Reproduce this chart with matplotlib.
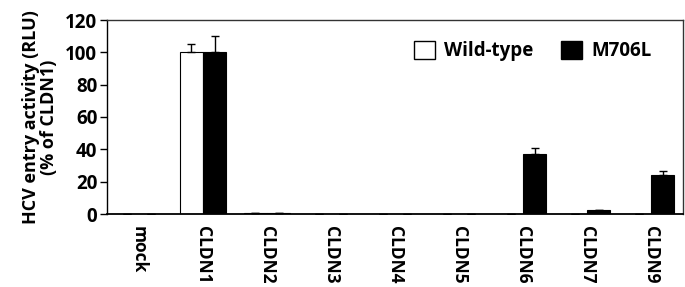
import numpy as np
import matplotlib.pyplot as plt
from matplotlib.patches import Patch

categories = ['mock', 'CLDN1', 'CLDN2', 'CLDN3', 'CLDN4', 'CLDN5', 'CLDN6', 'CLDN7', 'CLDN9']
wild_type = [0.3, 100, 0.5, 0, 0, 0, 0, 0, 0]
wild_type_err = [0, 5, 0, 0, 0, 0, 0, 0, 0]
m706l = [0.3, 100, 0.5, 0, 0, 0, 37, 2.3, 24]
m706l_err = [0, 10, 0, 0, 0, 0, 3.8, 0, 2.6]

plt.rcParams['font.family'] = ['Open Sans', 'DejaVu Sans']
plt.rcParams['font.weight'] = 'bold'

fig = plt.figure(figsize=(6.85, 2.87), dpi=100)
ax = fig.add_axes([107 / 685, 1 - 214 / 287, 576 / 685, 194 / 287])

x = np.arange(len(categories))
w = 0.36
ax.bar(x - w / 2, wild_type, w, color='white', edgecolor='black', linewidth=0.8,
       yerr=[np.zeros(len(x)), wild_type_err], capsize=3,
       error_kw=dict(elinewidth=1, capthick=1, ecolor='black'))
ax.bar(x + w / 2, m706l, w, color='black', edgecolor='black', linewidth=0.8,
       yerr=[np.zeros(len(x)), m706l_err], capsize=3,
       error_kw=dict(elinewidth=1, capthick=1, ecolor='black'))

ax.set_xlim(-0.5, len(categories) - 0.5)
ax.set_ylim(0, 120)
ax.set_yticks(range(0, 121, 20))
ax.tick_params(axis='y', labelsize=13.5, length=5, width=1, direction='out', pad=2)
ax.set_xticks(x)
ax.set_xticklabels(categories, rotation=270, fontsize=12.5, fontweight='bold')
ax.tick_params(axis='x', length=0, pad=9)
for lab in ax.get_yticklabels():
    lab.set_fontweight('bold')

for s in ax.spines.values():
    s.set_linewidth(1)
    s.set_color('#333333')
ax.spines['left'].set_color('black')
ax.spines['bottom'].set_color('black')
ax.spines['bottom'].set_linewidth(1.3)

ax.set_ylabel('HCV entry activity (RLU)\n(% of CLDN1)', fontsize=13, fontweight='bold',
              labelpad=5, linespacing=1.05)

handles = [Patch(facecolor='white', edgecolor='black', linewidth=1, label='Wild-type'),
           Patch(facecolor='black', edgecolor='black', label='M706L')]
ax.legend(handles=handles, loc='upper right', ncol=2, frameon=False,
          prop=dict(size=13.5, weight='bold'), handlelength=1.1, handleheight=1.1,
          columnspacing=1.5, handletextpad=0.5, bbox_to_anchor=(0.975, 0.98))

fig.savefig('out.png', dpi=100)
